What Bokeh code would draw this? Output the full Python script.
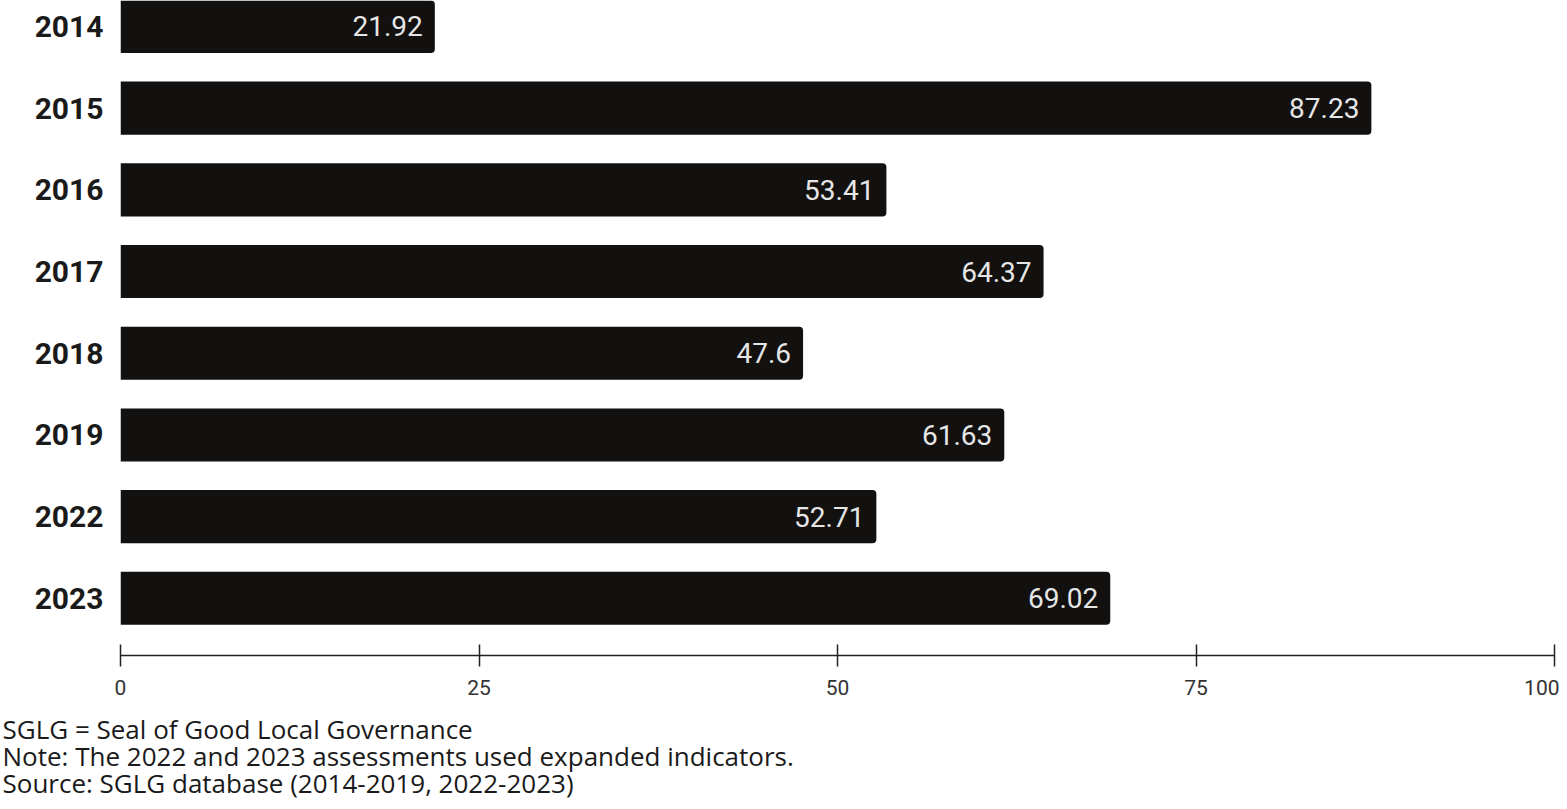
from bokeh.plotting import figure
from bokeh.layouts import column
from bokeh.models import Range1d, FixedTicker, ColumnDataSource
from bokeh.core.properties import value
from bokeh.embed import file_html
from bokeh.resources import INLINE

# ---- data ----
years = ["2014", "2015", "2016", "2017", "2018", "2019", "2022", "2023"]
scores = [21.92, 87.23, 53.41, 64.37, 47.6, 61.63, 52.71, 69.02]
x_ticks = [0, 25, 50, 75, 100]
footer_lines = [
    "SGLG = Seal of Good Local Governance",
    "Note: The 2022 and 2023 assessments used expanded indicators.",
    "Source: SGLG database (2014-2019, 2022-2023)",
]

W = 1559
H_CHART = 705
H_FOOT = 96

pos = list(range(len(years)))
src = ColumnDataSource(dict(y=pos, v=scores, lab=[str(s) for s in scores]))

p = figure(
    width=W, height=H_CHART,
    output_backend="svg", toolbar_location=None,
    x_range=Range1d(0, 100), y_range=Range1d(7.70, -0.318),
    min_border_left=120, min_border_right=5,
    min_border_top=0, min_border_bottom=50,
    background_fill_color="white", border_fill_color="white",
    frame_align=False,
)
p.outline_line_color = None
p.xgrid.visible = False
p.ygrid.visible = False

p.hbar(y="y", left=0, right="v", height=0.65, source=src,
       fill_color="#121110", line_color=None, border_radius=(0, 4, 4, 0))

p.text(x="v", y="y", text="lab", source=src, x_offset=-12,
       text_align="right", text_baseline="middle",
       text_color="#e6e6e6", text_font=value("Roboto"), text_font_size="28px")

# x axis
p.xaxis.ticker = FixedTicker(ticks=x_ticks)
p.xaxis.axis_line_color = "#222222"
p.xaxis.axis_line_width = 1.5
p.xaxis.major_tick_line_color = "#222222"
p.xaxis.major_tick_line_width = 1.5
p.xaxis.major_tick_in = 11
p.xaxis.major_tick_out = 11
p.xaxis.minor_tick_line_color = None
p.xaxis.major_label_text_font = "Roboto"
p.xaxis.major_label_text_font_size = "21px"
p.xaxis.major_label_text_color = "#333333"
p.xaxis.major_label_standoff = 13

# y axis
p.yaxis.ticker = FixedTicker(ticks=pos)
p.yaxis.major_label_overrides = {i: y for i, y in zip(pos, years)}
p.yaxis.axis_line_color = None
p.yaxis.major_tick_line_color = None
p.yaxis.minor_tick_line_color = None
p.yaxis.major_tick_out = 0
p.yaxis.major_tick_in = 0
p.yaxis.major_label_standoff = 17
p.yaxis.major_label_text_font = "Roboto"
p.yaxis.major_label_text_font_style = "bold"
p.yaxis.major_label_text_font_size = "30px"
p.yaxis.major_label_text_color = "#1a1a1a"

# footer (notes) as its own strip below the chart
f = figure(
    width=W, height=H_FOOT,
    output_backend="svg", toolbar_location=None,
    x_range=Range1d(0, W), y_range=Range1d(H_FOOT, 0),
    x_axis_type=None, y_axis_type=None,
    min_border_left=0, min_border_right=0, min_border_top=0, min_border_bottom=0,
    background_fill_color="white", border_fill_color="white",
    frame_align=False,
)
f.outline_line_color = None
f.xgrid.visible = False
f.ygrid.visible = False
f.text(x=[2, 2, 2], y=[23, 50, 77], text=footer_lines,
       text_align="left", text_baseline="alphabetic",
       text_color="#1a1a1a", text_font=value("Open Sans"), text_font_size="26px")

layout = column(p, f, spacing=0)
open("out.html", "w").write(file_html(layout, INLINE))
